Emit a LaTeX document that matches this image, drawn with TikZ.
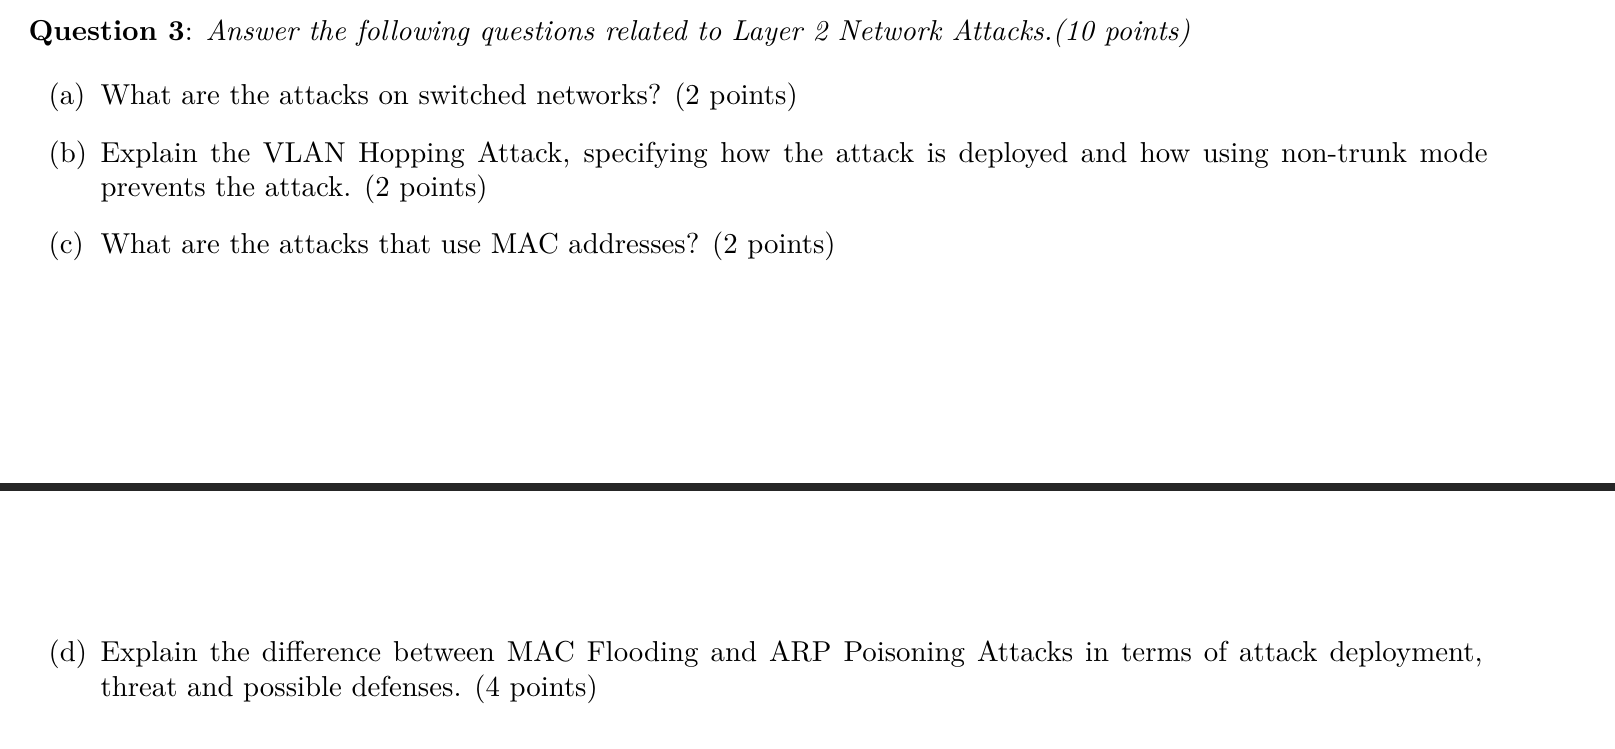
\documentclass[tikz,border=0pt]{standalone}
\begin{document}
\begin{tikzpicture}[x=0.3529pt,y=0.3529pt,t/.style={anchor=base west,inner sep=0pt,font=\fontsize{10.17}{12}\selectfont}]
\useasboundingbox (0,0) rectangle (1615,-748);
\node[t] (q) at (28,-40) {\textbf{Question 3}: \textit{Answer the following questions related to Layer 2 Network Attacks.(10 points)}};
\node[t] (al) at (48,-104) {(a)};
\node[t] (a) at (100,-104) {What are the attacks on switched networks? (2 points)};
\node[t] (bl) at (48,-162) {(b)};
\node[t] (b1) at (100,-162) {\hbox to 489.5pt{\spaceskip=3.33pt plus 20pt Explain the VLAN Hopping Attack, specifying how the attack is deployed and how using non-trunk mode}};
\node[t] (b2) at (100,-196) {prevents the attack. (2 points)};
\node[t] (cl) at (48,-253) {(c)};
\node[t] (c) at (100,-253) {What are the attacks that use MAC addresses? (2 points)};
\fill[black!85] (0,-483) rectangle (1615,-491);
\node[t] (dl) at (48,-661) {(d)};
\node[t] (d1) at (100,-661) {\hbox to 487.7pt{\spaceskip=3.33pt plus 20pt Explain the difference between MAC Flooding and ARP Poisoning Attacks in terms of attack deployment,}};
\node[t] (d2) at (100,-696) {threat and possible defenses. (4 points)};
\end{tikzpicture}
\end{document}
